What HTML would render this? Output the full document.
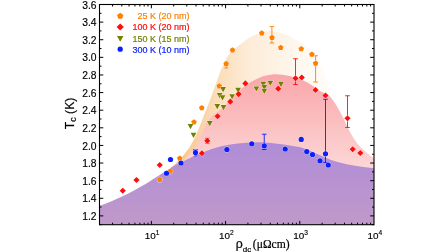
<!DOCTYPE html>
<html><head><meta charset="utf-8"><title>Tc vs resistivity</title>
<style>html,body{margin:0;padding:0;background:#fff}body{width:448px;height:252px;position:relative;overflow:hidden}</style>
</head><body>
<svg width="448" height="252" viewBox="0 0 448 252" style="position:absolute;left:0;top:0">
<defs>
<linearGradient id="go" gradientUnits="userSpaceOnUse" x1="168" y1="0" x2="338" y2="0"><stop offset="0" stop-color="#f7bd7c"/><stop offset="0.1" stop-color="#f9c990"/><stop offset="0.19" stop-color="#fad3a6"/><stop offset="0.28" stop-color="#fbdcb7"/><stop offset="0.48" stop-color="#fdecd8"/><stop offset="0.78" stop-color="#fef8f0"/><stop offset="1" stop-color="#fffdfb"/></linearGradient>
<linearGradient id="gr" gradientUnits="userSpaceOnUse" x1="0" y1="74" x2="0" y2="224"><stop offset="0" stop-color="#faa6aa"/><stop offset="1" stop-color="#fef3f0"/></linearGradient>
<linearGradient id="gp" gradientUnits="userSpaceOnUse" x1="0" y1="142" x2="0" y2="224"><stop offset="0" stop-color="#b08cd8"/><stop offset="1" stop-color="#bf99c9"/></linearGradient>
<clipPath id="cp"><rect x="99.50" y="4.50" width="274.50" height="220.20"/></clipPath>
</defs>
<g clip-path="url(#cp)">
<path d="M150.00,200.00 C151.67,197.50 157.00,189.83 160.00,185.00 C163.00,180.17 165.67,174.33 168.00,171.00 C170.33,167.67 172.00,166.92 174.00,165.00 C176.00,163.08 178.00,161.67 180.00,159.50 C182.00,157.33 184.33,154.17 186.00,152.00 C187.67,149.83 188.33,149.33 190.00,146.50 C191.67,143.67 194.17,138.92 196.00,135.00 C197.83,131.08 199.33,127.17 201.00,123.00 C202.67,118.83 204.33,114.25 206.00,110.00 C207.67,105.75 209.42,101.67 211.00,97.50 C212.58,93.33 214.00,89.17 215.50,85.00 C217.00,80.83 218.33,76.67 220.00,72.50 C221.67,68.33 223.67,63.42 225.50,60.00 C227.33,56.58 229.00,54.25 231.00,52.00 C233.00,49.75 234.33,48.92 237.50,46.50 C240.67,44.08 246.25,39.75 250.00,37.50 C253.75,35.25 256.67,34.08 260.00,33.00 C263.33,31.92 266.50,31.00 270.00,31.00 C273.50,31.00 277.25,31.92 281.00,33.00 C284.75,34.08 288.08,35.08 292.50,37.50 C296.92,39.92 303.58,44.42 307.50,47.50 C311.42,50.58 313.58,52.75 316.00,56.00 C318.42,59.25 320.33,63.33 322.00,67.00 C323.67,70.67 324.75,74.50 326.00,78.00 C327.25,81.50 328.33,84.50 329.50,88.00 C330.67,91.50 331.25,93.67 333.00,99.00 C334.75,104.33 336.83,111.50 340.00,120.00 C343.17,128.50 346.33,141.67 352.00,150.00 C357.67,158.33 370.33,166.67 374.00,170.00 L374.00,224.70 L150.00,224.70 Z" fill="url(#go)" />
<path d="M150.00,200.00 C153.33,196.00 165.00,181.92 170.00,176.00 C175.00,170.08 177.25,167.62 180.00,164.50 C182.75,161.38 184.25,159.88 186.50,157.30 C188.75,154.72 191.33,152.13 193.50,149.00 C195.67,145.87 197.75,141.92 199.50,138.50 C201.25,135.08 202.58,131.42 204.00,128.50 C205.42,125.58 206.42,123.25 208.00,121.00 C209.58,118.75 211.33,116.92 213.50,115.00 C215.67,113.08 217.83,112.42 221.00,109.50 C224.17,106.58 228.33,101.58 232.50,97.50 C236.67,93.42 241.42,88.33 246.00,85.00 C250.58,81.67 255.67,79.25 260.00,77.50 C264.33,75.75 268.00,74.92 272.00,74.50 C276.00,74.08 280.17,74.50 284.00,75.00 C287.83,75.50 291.08,76.25 295.00,77.50 C298.92,78.75 303.33,80.25 307.50,82.50 C311.67,84.75 316.46,88.83 320.00,91.00 C323.54,93.17 326.17,93.33 328.75,95.50 C331.33,97.67 333.16,100.42 335.50,104.00 C337.84,107.58 340.47,112.50 342.80,117.00 C345.13,121.50 347.38,127.00 349.50,131.00 C351.62,135.00 353.58,138.25 355.50,141.00 C357.42,143.75 359.08,145.50 361.00,147.50 C362.92,149.50 364.83,151.22 367.00,153.00 C369.17,154.78 372.83,157.33 374.00,158.20 L374.00,224.70 L150.00,224.70 Z" fill="url(#gr)" />
<path d="M99.50,205.80 C100.79,205.33 103.67,204.47 107.25,203.00 C110.83,201.53 116.62,199.05 121.00,197.00 C125.38,194.95 129.33,192.90 133.50,190.70 C137.67,188.50 141.83,186.28 146.00,183.80 C150.17,181.32 154.33,178.48 158.50,175.80 C162.67,173.12 166.83,170.12 171.00,167.70 C175.17,165.27 179.33,163.37 183.50,161.25 C187.67,159.13 192.83,156.46 196.00,155.00 C199.17,153.54 199.33,153.67 202.50,152.50 C205.67,151.33 210.83,149.25 215.00,148.00 C219.17,146.75 223.33,145.79 227.50,145.00 C231.67,144.21 235.83,143.67 240.00,143.25 C244.17,142.83 248.33,142.62 252.50,142.50 C256.67,142.38 260.83,142.29 265.00,142.50 C269.17,142.71 273.33,143.25 277.50,143.75 C281.67,144.25 285.92,144.82 290.00,145.50 C294.08,146.18 298.33,146.80 302.00,147.80 C305.67,148.80 309.00,150.25 312.00,151.50 C315.00,152.75 317.33,154.08 320.00,155.30 C322.67,156.52 325.33,157.75 328.00,158.80 C330.67,159.85 332.67,160.65 336.00,161.60 C339.33,162.55 344.00,163.67 348.00,164.50 C352.00,165.33 355.67,165.97 360.00,166.60 C364.33,167.23 371.67,168.02 374.00,168.30 L374.00,224.70 L99.50,224.70 Z" fill="url(#gp)" />
</g>
<path d="M271.90,26.60V43.00M269.60,26.60h4.60M269.60,43.00h4.60" stroke="#ff8000" stroke-width="0.90" fill="none"/>
<path d="M315.60,55.75V82.00M313.30,55.75h4.60M313.30,82.00h4.60" stroke="#ff8000" stroke-width="0.90" fill="none"/>
<path d="M226.20,62.00V68.00M224.47,62.00h3.45M224.47,68.00h3.45" stroke="#ff8000" stroke-width="0.90" fill="none"/>
<path d="M295.50,58.75V84.50M293.20,58.75h4.60M293.20,84.50h4.60" stroke="#ff0d0d" stroke-width="0.90" fill="none"/>
<path d="M347.50,95.75V127.50M345.20,95.75h4.60M345.20,127.50h4.60" stroke="#ff0d0d" stroke-width="0.90" fill="none"/>
<path d="M207.30,138.30V143.20M205.23,138.30h4.14M205.23,143.20h4.14" stroke="#ff0d0d" stroke-width="0.90" fill="none"/>
<path d="M325.50,99.25V162.50M323.20,99.25h4.60M323.20,162.50h4.60" stroke="#0a1eff" stroke-width="0.90" fill="none"/>
<path d="M264.25,134.25V149.50M261.95,134.25h4.60M261.95,149.50h4.60" stroke="#0a1eff" stroke-width="0.90" fill="none"/>
<path d="M195.5,149.9V156M192.9,149.9h5.2M194.3,155.8h2.4" stroke="#0a1eff" stroke-width="1" fill="none"/>
<polygon points="261.75,30.30 264.51,32.30 263.45,35.55 260.05,35.55 258.99,32.30" fill="#ff8000" stroke="#fff" stroke-opacity=".6" stroke-width="1" paint-order="stroke"/>
<polygon points="272.00,34.80 274.76,36.80 273.70,40.05 270.30,40.05 269.24,36.80" fill="#ff8000" stroke="#fff" stroke-opacity=".6" stroke-width="1" paint-order="stroke"/>
<polygon points="280.75,44.80 283.51,46.80 282.45,50.05 279.05,50.05 277.99,46.80" fill="#ff8000" stroke="#fff" stroke-opacity=".6" stroke-width="1" paint-order="stroke"/>
<polygon points="301.25,46.05 304.01,48.05 302.95,51.30 299.55,51.30 298.49,48.05" fill="#ff8000" stroke="#fff" stroke-opacity=".6" stroke-width="1" paint-order="stroke"/>
<polygon points="311.90,51.55 314.66,53.55 313.60,56.80 310.20,56.80 309.14,53.55" fill="#ff8000" stroke="#fff" stroke-opacity=".6" stroke-width="1" paint-order="stroke"/>
<polygon points="315.60,60.50 318.36,62.50 317.30,65.75 313.90,65.75 312.84,62.50" fill="#ff8000" stroke="#fff" stroke-opacity=".6" stroke-width="1" paint-order="stroke"/>
<polygon points="232.50,47.30 235.26,49.30 234.20,52.55 230.80,52.55 229.74,49.30" fill="#ff8000" stroke="#fff" stroke-opacity=".6" stroke-width="1" paint-order="stroke"/>
<polygon points="226.20,61.00 228.96,63.00 227.90,66.25 224.50,66.25 223.44,63.00" fill="#ff8000" stroke="#fff" stroke-opacity=".6" stroke-width="1" paint-order="stroke"/>
<polygon points="219.30,83.30 222.06,85.30 221.00,88.55 217.60,88.55 216.54,85.30" fill="#ff8000" stroke="#fff" stroke-opacity=".6" stroke-width="1" paint-order="stroke"/>
<polygon points="201.75,105.10 204.51,107.10 203.45,110.35 200.05,110.35 198.99,107.10" fill="#ff8000" stroke="#fff" stroke-opacity=".6" stroke-width="1" paint-order="stroke"/>
<polygon points="194.00,119.30 196.76,121.30 195.70,124.55 192.30,124.55 191.24,121.30" fill="#ff8000" stroke="#fff" stroke-opacity=".6" stroke-width="1" paint-order="stroke"/>
<polygon points="179.75,155.50 182.51,157.50 181.45,160.75 178.05,160.75 176.99,157.50" fill="#ff8000" stroke="#fff" stroke-opacity=".6" stroke-width="1" paint-order="stroke"/>
<polygon points="170.25,168.55 173.01,170.55 171.95,173.80 168.55,173.80 167.49,170.55" fill="#ff8000" stroke="#fff" stroke-opacity=".6" stroke-width="1" paint-order="stroke"/>
<polygon points="159.75,176.80 162.51,178.80 161.45,182.05 158.05,182.05 156.99,178.80" fill="#ff8000" stroke="#fff" stroke-opacity=".6" stroke-width="1" paint-order="stroke"/>
<polygon points="187.65,124.11 193.35,124.11 190.50,129.24" fill="#748000" stroke="#fff" stroke-opacity=".6" stroke-width="1" paint-order="stroke"/>
<polygon points="190.65,132.86 196.35,132.86 193.50,137.99" fill="#748000" stroke="#fff" stroke-opacity=".6" stroke-width="1" paint-order="stroke"/>
<polygon points="206.90,121.11 212.60,121.11 209.75,126.24" fill="#748000" stroke="#fff" stroke-opacity=".6" stroke-width="1" paint-order="stroke"/>
<polygon points="214.40,104.11 220.10,104.11 217.25,109.24" fill="#748000" stroke="#fff" stroke-opacity=".6" stroke-width="1" paint-order="stroke"/>
<polygon points="220.65,105.06 226.35,105.06 223.50,110.19" fill="#748000" stroke="#fff" stroke-opacity=".6" stroke-width="1" paint-order="stroke"/>
<polygon points="220.25,87.06 225.95,87.06 223.10,92.19" fill="#748000" stroke="#fff" stroke-opacity=".6" stroke-width="1" paint-order="stroke"/>
<polygon points="216.85,93.06 222.55,93.06 219.70,98.19" fill="#748000" stroke="#fff" stroke-opacity=".6" stroke-width="1" paint-order="stroke"/>
<polygon points="219.65,95.26 225.35,95.26 222.50,100.39" fill="#748000" stroke="#fff" stroke-opacity=".6" stroke-width="1" paint-order="stroke"/>
<polygon points="229.25,94.16 234.95,94.16 232.10,99.29" fill="#748000" stroke="#fff" stroke-opacity=".6" stroke-width="1" paint-order="stroke"/>
<polygon points="235.25,87.76 240.95,87.76 238.10,92.89" fill="#748000" stroke="#fff" stroke-opacity=".6" stroke-width="1" paint-order="stroke"/>
<polygon points="253.55,86.46 259.25,86.46 256.40,91.59" fill="#748000" stroke="#fff" stroke-opacity=".6" stroke-width="1" paint-order="stroke"/>
<polygon points="260.35,81.76 266.05,81.76 263.20,86.89" fill="#748000" stroke="#fff" stroke-opacity=".6" stroke-width="1" paint-order="stroke"/>
<polygon points="261.45,84.96 267.15,84.96 264.30,90.09" fill="#748000" stroke="#fff" stroke-opacity=".6" stroke-width="1" paint-order="stroke"/>
<polygon points="261.45,88.76 267.15,88.76 264.30,93.89" fill="#748000" stroke="#fff" stroke-opacity=".6" stroke-width="1" paint-order="stroke"/>
<polygon points="267.45,80.66 273.15,80.66 270.30,85.79" fill="#748000" stroke="#fff" stroke-opacity=".6" stroke-width="1" paint-order="stroke"/>
<polygon points="278.15,81.76 283.85,81.76 281.00,86.89" fill="#748000" stroke="#fff" stroke-opacity=".6" stroke-width="1" paint-order="stroke"/>
<polygon points="122.75,187.65 125.85,190.75 122.75,193.85 119.65,190.75" fill="#ff0d0d" stroke="#fff" stroke-opacity=".6" stroke-width="1" paint-order="stroke"/>
<polygon points="136.50,176.90 139.60,180.00 136.50,183.10 133.40,180.00" fill="#ff0d0d" stroke="#fff" stroke-opacity=".6" stroke-width="1" paint-order="stroke"/>
<polygon points="159.75,161.90 162.85,165.00 159.75,168.10 156.65,165.00" fill="#ff0d0d" stroke="#fff" stroke-opacity=".6" stroke-width="1" paint-order="stroke"/>
<polygon points="201.90,150.15 205.00,153.25 201.90,156.35 198.80,153.25" fill="#ff0d0d" stroke="#fff" stroke-opacity=".6" stroke-width="1" paint-order="stroke"/>
<polygon points="207.30,137.65 210.40,140.75 207.30,143.85 204.20,140.75" fill="#ff0d0d" stroke="#fff" stroke-opacity=".6" stroke-width="1" paint-order="stroke"/>
<polygon points="217.60,113.15 220.70,116.25 217.60,119.35 214.50,116.25" fill="#ff0d0d" stroke="#fff" stroke-opacity=".6" stroke-width="1" paint-order="stroke"/>
<polygon points="230.30,98.60 233.40,101.70 230.30,104.80 227.20,101.70" fill="#ff0d0d" stroke="#fff" stroke-opacity=".6" stroke-width="1" paint-order="stroke"/>
<polygon points="238.60,91.00 241.70,94.10 238.60,97.20 235.50,94.10" fill="#ff0d0d" stroke="#fff" stroke-opacity=".6" stroke-width="1" paint-order="stroke"/>
<polygon points="245.40,80.30 248.50,83.40 245.40,86.50 242.30,83.40" fill="#ff0d0d" stroke="#fff" stroke-opacity=".6" stroke-width="1" paint-order="stroke"/>
<polygon points="278.20,85.60 281.30,88.70 278.20,91.80 275.10,88.70" fill="#ff0d0d" stroke="#fff" stroke-opacity=".6" stroke-width="1" paint-order="stroke"/>
<polygon points="295.50,75.15 298.60,78.25 295.50,81.35 292.40,78.25" fill="#ff0d0d" stroke="#fff" stroke-opacity=".6" stroke-width="1" paint-order="stroke"/>
<polygon points="301.75,74.40 304.85,77.50 301.75,80.60 298.65,77.50" fill="#ff0d0d" stroke="#fff" stroke-opacity=".6" stroke-width="1" paint-order="stroke"/>
<polygon points="315.50,86.90 318.60,90.00 315.50,93.10 312.40,90.00" fill="#ff0d0d" stroke="#fff" stroke-opacity=".6" stroke-width="1" paint-order="stroke"/>
<polygon points="325.50,92.40 328.60,95.50 325.50,98.60 322.40,95.50" fill="#ff0d0d" stroke="#fff" stroke-opacity=".6" stroke-width="1" paint-order="stroke"/>
<polygon points="347.50,115.15 350.60,118.25 347.50,121.35 344.40,118.25" fill="#ff0d0d" stroke="#fff" stroke-opacity=".6" stroke-width="1" paint-order="stroke"/>
<polygon points="352.70,146.15 355.80,149.25 352.70,152.35 349.60,149.25" fill="#ff0d0d" stroke="#fff" stroke-opacity=".6" stroke-width="1" paint-order="stroke"/>
<polygon points="360.30,149.90 363.40,153.00 360.30,156.10 357.20,153.00" fill="#ff0d0d" stroke="#fff" stroke-opacity=".6" stroke-width="1" paint-order="stroke"/>
<circle cx="170.50" cy="159.50" r="2.60" fill="#0a1eff" stroke="#fff" stroke-opacity=".6" stroke-width="1" paint-order="stroke"/>
<circle cx="181.00" cy="163.00" r="2.60" fill="#0a1eff" stroke="#fff" stroke-opacity=".6" stroke-width="1" paint-order="stroke"/>
<circle cx="166.50" cy="173.25" r="2.60" fill="#0a1eff" stroke="#fff" stroke-opacity=".6" stroke-width="1" paint-order="stroke"/>
<circle cx="195.50" cy="152.50" r="2.60" fill="#0a1eff" stroke="#fff" stroke-opacity=".6" stroke-width="1" paint-order="stroke"/>
<circle cx="226.90" cy="149.50" r="2.60" fill="#0a1eff" stroke="#fff" stroke-opacity=".6" stroke-width="1" paint-order="stroke"/>
<circle cx="251.75" cy="143.75" r="2.60" fill="#0a1eff" stroke="#fff" stroke-opacity=".6" stroke-width="1" paint-order="stroke"/>
<circle cx="264.25" cy="145.75" r="2.60" fill="#0a1eff" stroke="#fff" stroke-opacity=".6" stroke-width="1" paint-order="stroke"/>
<circle cx="285.20" cy="149.00" r="2.60" fill="#0a1eff" stroke="#fff" stroke-opacity=".6" stroke-width="1" paint-order="stroke"/>
<circle cx="301.25" cy="139.40" r="2.60" fill="#0a1eff" stroke="#fff" stroke-opacity=".6" stroke-width="1" paint-order="stroke"/>
<circle cx="306.75" cy="151.60" r="2.60" fill="#0a1eff" stroke="#fff" stroke-opacity=".6" stroke-width="1" paint-order="stroke"/>
<circle cx="312.50" cy="154.50" r="2.60" fill="#0a1eff" stroke="#fff" stroke-opacity=".6" stroke-width="1" paint-order="stroke"/>
<circle cx="320.00" cy="160.75" r="2.60" fill="#0a1eff" stroke="#fff" stroke-opacity=".6" stroke-width="1" paint-order="stroke"/>
<circle cx="325.50" cy="153.75" r="2.60" fill="#0a1eff" stroke="#fff" stroke-opacity=".6" stroke-width="1" paint-order="stroke"/>
<circle cx="328.25" cy="165.00" r="2.60" fill="#0a1eff" stroke="#fff" stroke-opacity=".6" stroke-width="1" paint-order="stroke"/>
<rect x="99.50" y="4.50" width="274.50" height="220.20" fill="none" stroke="#000" stroke-width="1.1"/>
<path d="M99.50,224.70h2.00M374.00,224.70h-2.00M99.50,215.89h3.80M374.00,215.89h-3.80M99.50,207.08h2.00M374.00,207.08h-2.00M99.50,198.28h3.80M374.00,198.28h-3.80M99.50,189.47h2.00M374.00,189.47h-2.00M99.50,180.66h3.80M374.00,180.66h-3.80M99.50,171.85h2.00M374.00,171.85h-2.00M99.50,163.04h3.80M374.00,163.04h-3.80M99.50,154.24h2.00M374.00,154.24h-2.00M99.50,145.43h3.80M374.00,145.43h-3.80M99.50,136.62h2.00M374.00,136.62h-2.00M99.50,127.81h3.80M374.00,127.81h-3.80M99.50,119.00h2.00M374.00,119.00h-2.00M99.50,110.20h3.80M374.00,110.20h-3.80M99.50,101.39h2.00M374.00,101.39h-2.00M99.50,92.58h3.80M374.00,92.58h-3.80M99.50,83.77h2.00M374.00,83.77h-2.00M99.50,74.96h3.80M374.00,74.96h-3.80M99.50,66.16h2.00M374.00,66.16h-2.00M99.50,57.35h3.80M374.00,57.35h-3.80M99.50,48.54h2.00M374.00,48.54h-2.00M99.50,39.73h3.80M374.00,39.73h-3.80M99.50,30.92h2.00M374.00,30.92h-2.00M99.50,22.12h3.80M374.00,22.12h-3.80M99.50,13.31h2.00M374.00,13.31h-2.00M99.50,4.50h3.80M374.00,4.50h-3.80M99.50,224.70v-2.00M99.50,4.50v2.00M112.57,224.70v-2.00M112.57,4.50v2.00M121.84,224.70v-2.00M121.84,4.50v2.00M129.03,224.70v-2.00M129.03,4.50v2.00M134.91,224.70v-2.00M134.91,4.50v2.00M139.88,224.70v-2.00M139.88,4.50v2.00M144.18,224.70v-2.00M144.18,4.50v2.00M147.97,224.70v-2.00M147.97,4.50v2.00M151.37,224.70v-3.80M151.37,4.50v3.80M173.71,224.70v-2.00M173.71,4.50v2.00M186.78,224.70v-2.00M186.78,4.50v2.00M196.05,224.70v-2.00M196.05,4.50v2.00M203.24,224.70v-2.00M203.24,4.50v2.00M209.12,224.70v-2.00M209.12,4.50v2.00M214.09,224.70v-2.00M214.09,4.50v2.00M218.39,224.70v-2.00M218.39,4.50v2.00M222.18,224.70v-2.00M222.18,4.50v2.00M225.58,224.70v-3.80M225.58,4.50v3.80M247.92,224.70v-2.00M247.92,4.50v2.00M260.99,224.70v-2.00M260.99,4.50v2.00M270.26,224.70v-2.00M270.26,4.50v2.00M277.45,224.70v-2.00M277.45,4.50v2.00M283.33,224.70v-2.00M283.33,4.50v2.00M288.29,224.70v-2.00M288.29,4.50v2.00M292.60,224.70v-2.00M292.60,4.50v2.00M296.39,224.70v-2.00M296.39,4.50v2.00M299.79,224.70v-3.80M299.79,4.50v3.80M322.13,224.70v-2.00M322.13,4.50v2.00M335.20,224.70v-2.00M335.20,4.50v2.00M344.47,224.70v-2.00M344.47,4.50v2.00M351.66,224.70v-2.00M351.66,4.50v2.00M357.54,224.70v-2.00M357.54,4.50v2.00M362.50,224.70v-2.00M362.50,4.50v2.00M366.81,224.70v-2.00M366.81,4.50v2.00M370.60,224.70v-2.00M370.60,4.50v2.00" stroke="#000" stroke-width="1" fill="none"/>
<text x="96.5" y="219.99" font-family="Liberation Sans, Arial, sans-serif" font-size="10.3" text-anchor="end" fill="#000" stroke="#000" stroke-width=".15">1.2</text>
<text x="96.5" y="202.38" font-family="Liberation Sans, Arial, sans-serif" font-size="10.3" text-anchor="end" fill="#000" stroke="#000" stroke-width=".15">1.4</text>
<text x="96.5" y="184.76" font-family="Liberation Sans, Arial, sans-serif" font-size="10.3" text-anchor="end" fill="#000" stroke="#000" stroke-width=".15">1.6</text>
<text x="96.5" y="167.14" font-family="Liberation Sans, Arial, sans-serif" font-size="10.3" text-anchor="end" fill="#000" stroke="#000" stroke-width=".15">1.8</text>
<text x="96.5" y="149.53" font-family="Liberation Sans, Arial, sans-serif" font-size="10.3" text-anchor="end" fill="#000" stroke="#000" stroke-width=".15">2.0</text>
<text x="96.5" y="131.91" font-family="Liberation Sans, Arial, sans-serif" font-size="10.3" text-anchor="end" fill="#000" stroke="#000" stroke-width=".15">2.2</text>
<text x="96.5" y="114.30" font-family="Liberation Sans, Arial, sans-serif" font-size="10.3" text-anchor="end" fill="#000" stroke="#000" stroke-width=".15">2.4</text>
<text x="96.5" y="96.68" font-family="Liberation Sans, Arial, sans-serif" font-size="10.3" text-anchor="end" fill="#000" stroke="#000" stroke-width=".15">2.6</text>
<text x="96.5" y="79.06" font-family="Liberation Sans, Arial, sans-serif" font-size="10.3" text-anchor="end" fill="#000" stroke="#000" stroke-width=".15">2.8</text>
<text x="96.5" y="61.45" font-family="Liberation Sans, Arial, sans-serif" font-size="10.3" text-anchor="end" fill="#000" stroke="#000" stroke-width=".15">3.0</text>
<text x="96.5" y="43.83" font-family="Liberation Sans, Arial, sans-serif" font-size="10.3" text-anchor="end" fill="#000" stroke="#000" stroke-width=".15">3.2</text>
<text x="96.5" y="26.22" font-family="Liberation Sans, Arial, sans-serif" font-size="10.3" text-anchor="end" fill="#000" stroke="#000" stroke-width=".15">3.4</text>
<text x="96.5" y="8.60" font-family="Liberation Sans, Arial, sans-serif" font-size="10.3" text-anchor="end" fill="#000" stroke="#000" stroke-width=".15">3.6</text>
<text x="144.77" y="239.2" font-family="Liberation Sans, Arial, sans-serif" font-size="9.9" fill="#000" stroke="#000" stroke-width=".15">10<tspan font-size="6.6" dy="-4.2">1</tspan></text>
<text x="218.98" y="239.2" font-family="Liberation Sans, Arial, sans-serif" font-size="9.9" fill="#000" stroke="#000" stroke-width=".15">10<tspan font-size="6.6" dy="-4.2">2</tspan></text>
<text x="293.19" y="239.2" font-family="Liberation Sans, Arial, sans-serif" font-size="9.9" fill="#000" stroke="#000" stroke-width=".15">10<tspan font-size="6.6" dy="-4.2">3</tspan></text>
<text x="367.40" y="239.2" font-family="Liberation Sans, Arial, sans-serif" font-size="9.9" fill="#000" stroke="#000" stroke-width=".15">10<tspan font-size="6.6" dy="-4.2">4</tspan></text>
<text x="189.6" y="19.10" font-family="Liberation Sans, Arial, sans-serif" font-size="9.0" text-anchor="end" fill="#ff8000" stroke="#ff8000" stroke-width=".2">25 K (20 nm)</text>
<polygon points="120.20,12.70 123.34,14.98 122.14,18.67 118.26,18.67 117.06,14.98" fill="#ff8000" stroke="#fff" stroke-opacity=".6" stroke-width="1" paint-order="stroke"/>
<text x="189.6" y="30.30" font-family="Liberation Sans, Arial, sans-serif" font-size="9.0" text-anchor="end" fill="#ff0d0d" stroke="#ff0d0d" stroke-width=".2">100 K (20 nm)</text>
<polygon points="120.20,23.40 123.80,27.00 120.20,30.60 116.60,27.00" fill="#ff0d0d" stroke="#fff" stroke-opacity=".6" stroke-width="1" paint-order="stroke"/>
<text x="189.6" y="41.60" font-family="Liberation Sans, Arial, sans-serif" font-size="9.0" text-anchor="end" fill="#748000" stroke="#748000" stroke-width=".2">150 K (15 nm)</text>
<polygon points="117.00,35.90 123.40,35.90 120.20,41.66" fill="#748000" stroke="#fff" stroke-opacity=".6" stroke-width="1" paint-order="stroke"/>
<text x="189.6" y="52.50" font-family="Liberation Sans, Arial, sans-serif" font-size="9.0" text-anchor="end" fill="#0a1eff" stroke="#0a1eff" stroke-width=".2">300 K (10 nm)</text>
<circle cx="120.20" cy="49.20" r="2.60" fill="#0a1eff" stroke="#fff" stroke-opacity=".6" stroke-width="1" paint-order="stroke"/>
<text transform="translate(73.7,129.3) rotate(-90)" font-family="Liberation Sans, Arial, sans-serif" font-size="12.3" fill="#000" stroke="#000" stroke-width=".2">T<tspan font-size="8.8" dy="2.6">c</tspan><tspan dy="-2.6"> (K)</tspan></text>
<text x="235.8" y="248.2" font-family="Liberation Sans, Arial, sans-serif" font-size="12.3" fill="#000" stroke="#000" stroke-width=".2">ρ<tspan font-size="8.0" dy="3.5">dc</tspan><tspan dy="-3.9" dx="-1.3" font-family="Liberation Serif, Times New Roman, serif" font-size="11.6"> (μΩcm)</tspan></text>
</svg>
</body></html>
